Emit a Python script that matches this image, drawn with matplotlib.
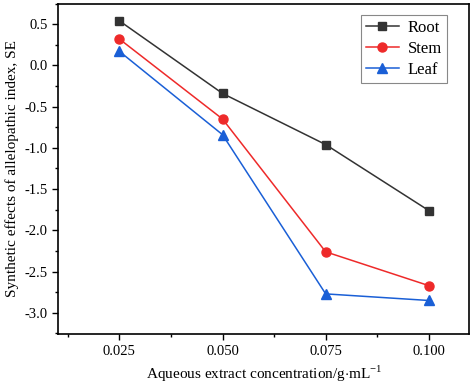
import matplotlib.pyplot as plt
from matplotlib.ticker import MultipleLocator

# Data
conc = [0.025, 0.050, 0.075, 0.100]
root = [0.54, -0.34, -0.96, -1.76]
stem = [0.32, -0.65, -2.26, -2.67]
leaf = [0.17, -0.84, -2.77, -2.85]
xtick_labels = ['0.025', '0.050', '0.075', '0.100']

plt.rcParams['font.family'] = ['Liberation Serif', 'DejaVu Serif']
plt.rcParams['mathtext.fontset'] = 'custom'
plt.rcParams['mathtext.rm'] = 'Liberation Serif'

fig = plt.figure(figsize=(4.74, 3.91), dpi=100)
ax = fig.add_axes([0.123, 0.145, 0.867, 0.846])

ax.plot(conc, root, color='#333333', marker='s', markersize=6, lw=1.1, label='Root')
ax.plot(conc, stem, color='#ee2a2a', marker='o', markersize=6.5, lw=1.1, label='Stem')
ax.plot(conc, leaf, color='#1a5fd6', marker='^', markersize=6.5, lw=1.1, label='Leaf')

ax.set_xlim(0.0102, 0.1098)
ax.set_ylim(-3.26, 0.75)
ax.set_xticks(conc)
ax.set_xticklabels(xtick_labels)
ax.xaxis.set_minor_locator(MultipleLocator(0.0125))
ax.yaxis.set_minor_locator(MultipleLocator(0.25))
ax.set_yticks([0.5, 0.0, -0.5, -1.0, -1.5, -2.0, -2.5, -3.0])
ax.set_yticklabels(['0.5', '0.0', '-0.5', '-1.0', '-1.5', '-2.0', '-2.5', '-3.0'])

ax.tick_params(which='major', direction='out', length=4, width=1, labelsize=10.5)
ax.tick_params(which='minor', direction='out', length=2.5, width=1)
for s in ax.spines.values():
    s.set_linewidth(1.2)

ax.set_xlabel('Aqueous extract concentration/g$\\cdot$mL$^{\\mathregular{-1}}$', fontsize=11)
ax.set_ylabel('Synthetic effects of allelopathic index, SE', fontsize=11)

leg = ax.legend(loc='upper right', bbox_to_anchor=(0.945, 0.966), fontsize=12,
                fancybox=False, framealpha=1, edgecolor='#888888',
                handlelength=2.0, handletextpad=0.5, borderpad=0.3,
                labelspacing=0.3, borderaxespad=0)
leg.get_frame().set_linewidth(0.8)

plt.savefig('out.png', dpi=100)
